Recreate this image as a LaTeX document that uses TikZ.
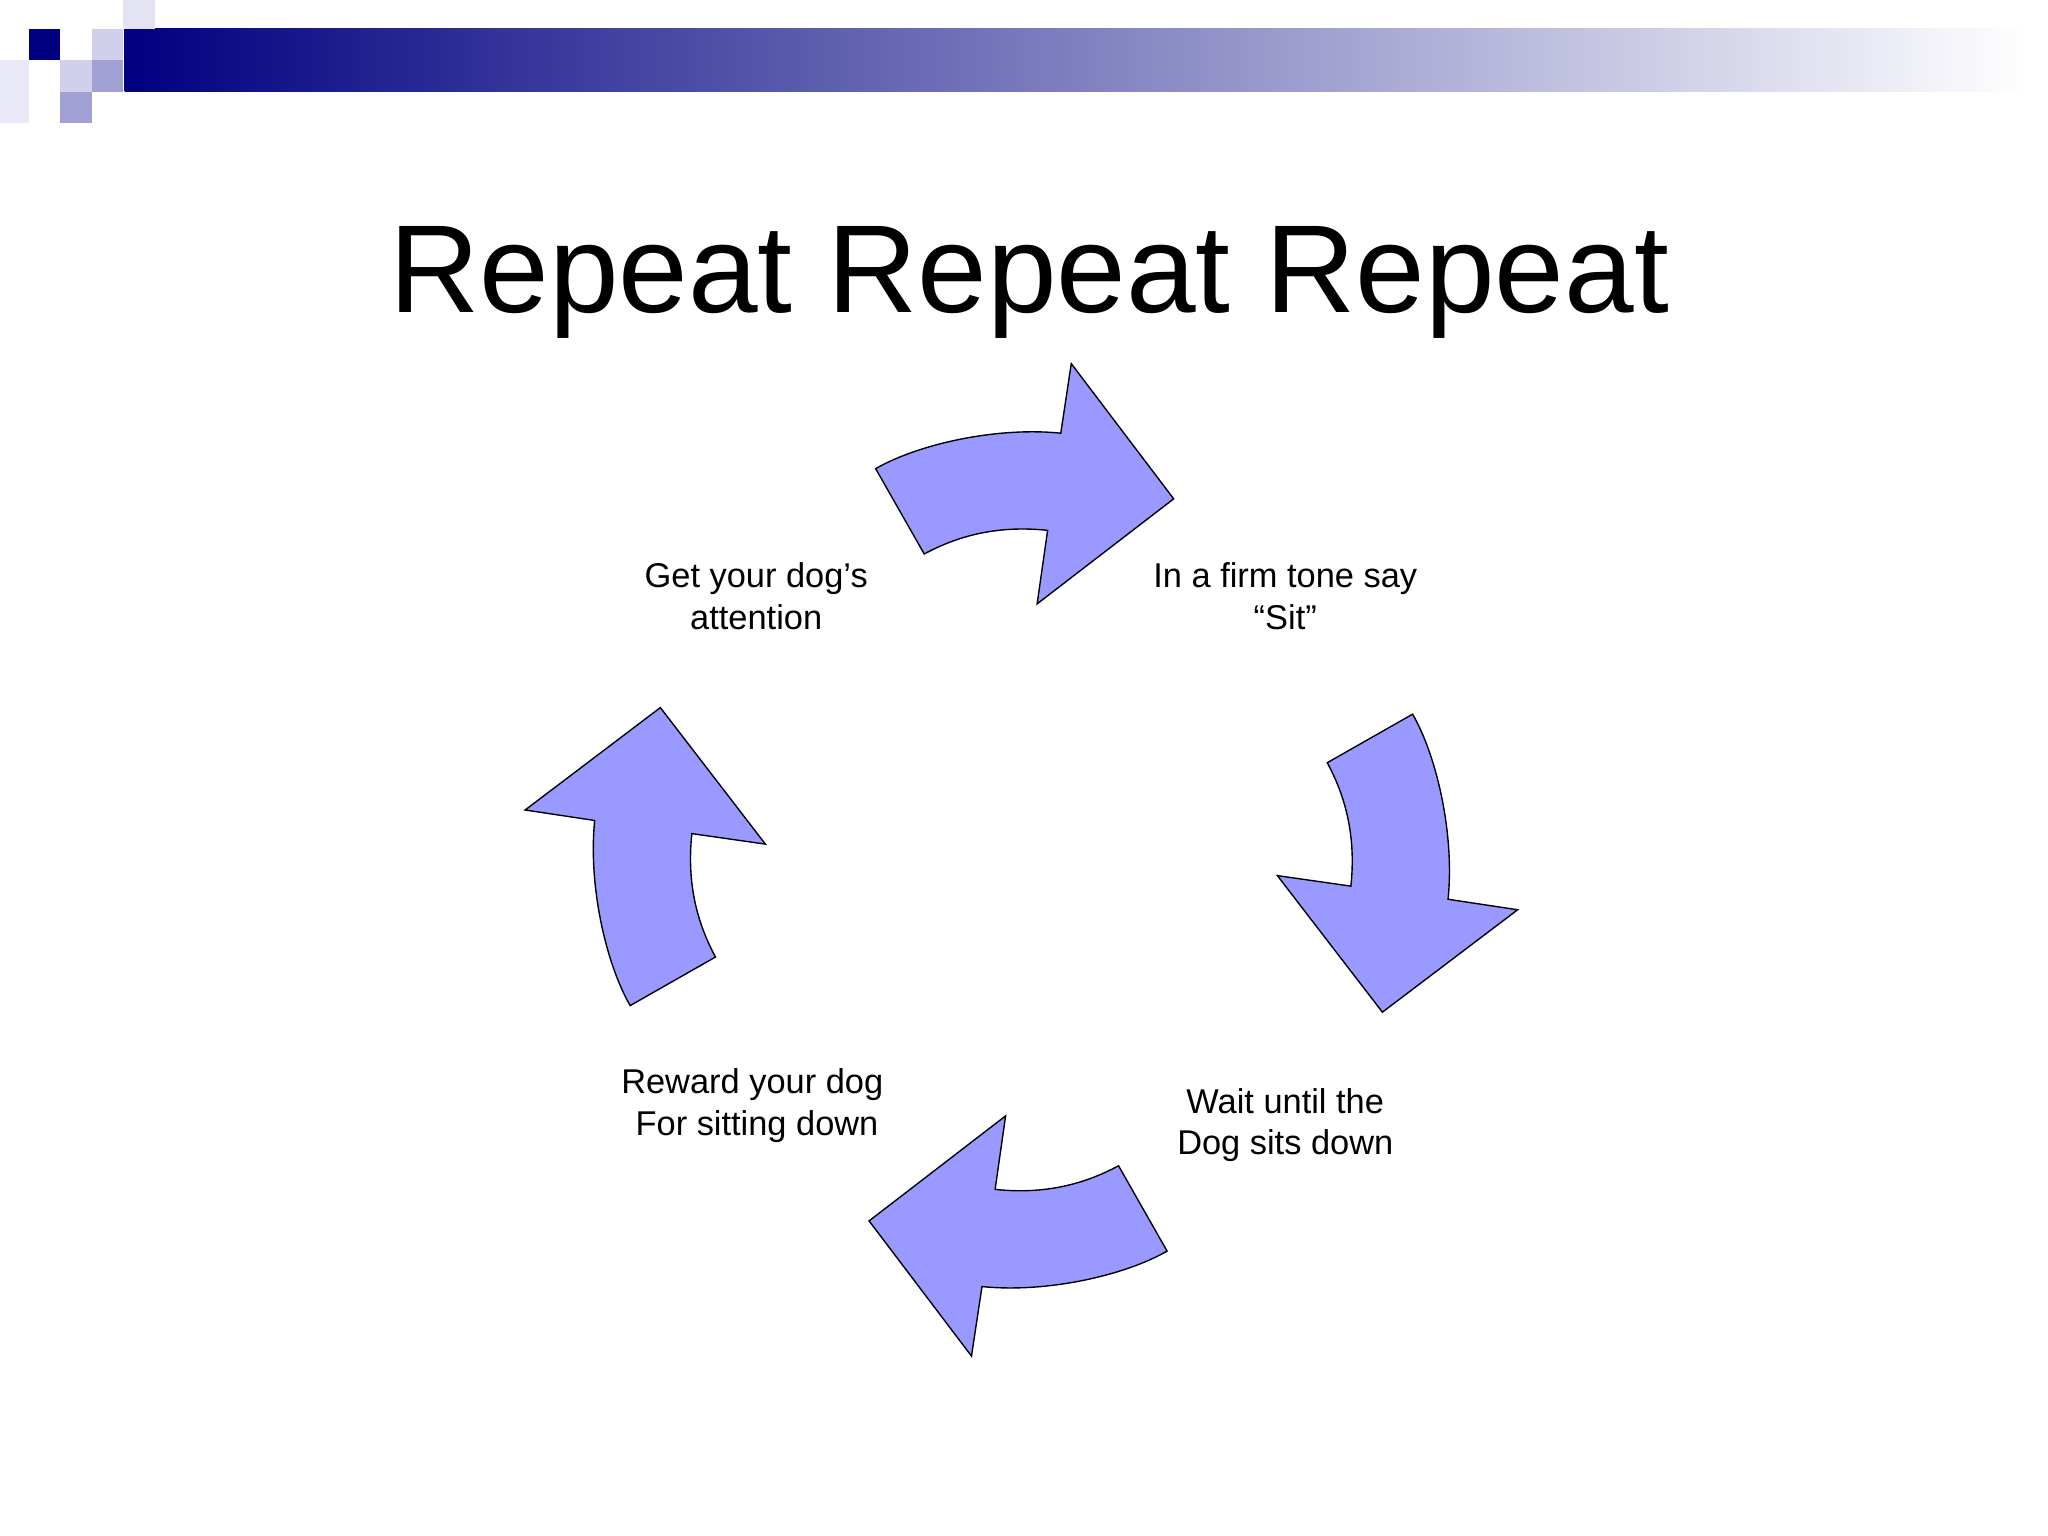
\documentclass[tikz,border=0pt]{standalone}
\usepackage{fontspec}
\setmainfont{Liberation Sans}
\usetikzlibrary{shadings}
\definecolor{arr}{HTML}{9999FF}
\definecolor{navy}{HTML}{000080}
\definecolor{lav1}{HTML}{D0D0EC}
\definecolor{lav2}{HTML}{A0A0D4}
\tikzset{lbl/.style={font=\fontsize{7.45}{9}\selectfont,align=center},
 arrowshape/.style={fill=arr,draw=black,line width=0.3pt,line join=miter}}
\begin{document}
\begin{tikzpicture}[x=0.01cm,y=0.01cm]
\useasboundingbox (0,0) rectangle (1560,1170);
\fill[white] (0,0) rectangle (1560,1170);
% header
\shade[left color=navy,right color=white] (95,1148) rectangle (1545,1100);
\fill[navy] (22,1148) rectangle (46,1124);
\fill[lav1] (70,1148) rectangle (94,1124);
\fill[lav1!60] (94,1170) rectangle (118,1148);
\fill[lav1] (46,1124) rectangle (70,1100);
\fill[lav2] (70,1124) rectangle (94,1100);
\fill[lav2] (46,1100) rectangle (70,1076);
\fill[lav1!50] (0,1124) rectangle (22,1076);
\node[anchor=base,font=\fontsize{27.1}{32}\selectfont] (title) at (784,932) {Repeat Repeat Repeat};
% arrows
\foreach \a/\n in {0/a1,-90/a2,-180/a3,90/a4}{
 \begin{scope}[rotate around={\a:(778,515)}]
 \draw[arrowshape] (667,813) .. controls (700,832) and (760,845) .. (808,840)
  -- (816,893) -- (894,790) -- (790,710) -- (798,766)
  .. controls (760,770) and (730,762) .. (704,748) -- cycle;
 \end{scope}}
% labels
\node[lbl] (l1) at (576,716) {Get your dog’s\\attention};
\node[lbl] (l2) at (979,716) {In a firm tone say\\“Sit”};
\node[lbl] (l3) at (979,313) {Wait until the\\Dog sits down};
\node[lbl] (l4) at (573,328) {Reward your dog\\\ For sitting down};
\end{tikzpicture}
\end{document}
